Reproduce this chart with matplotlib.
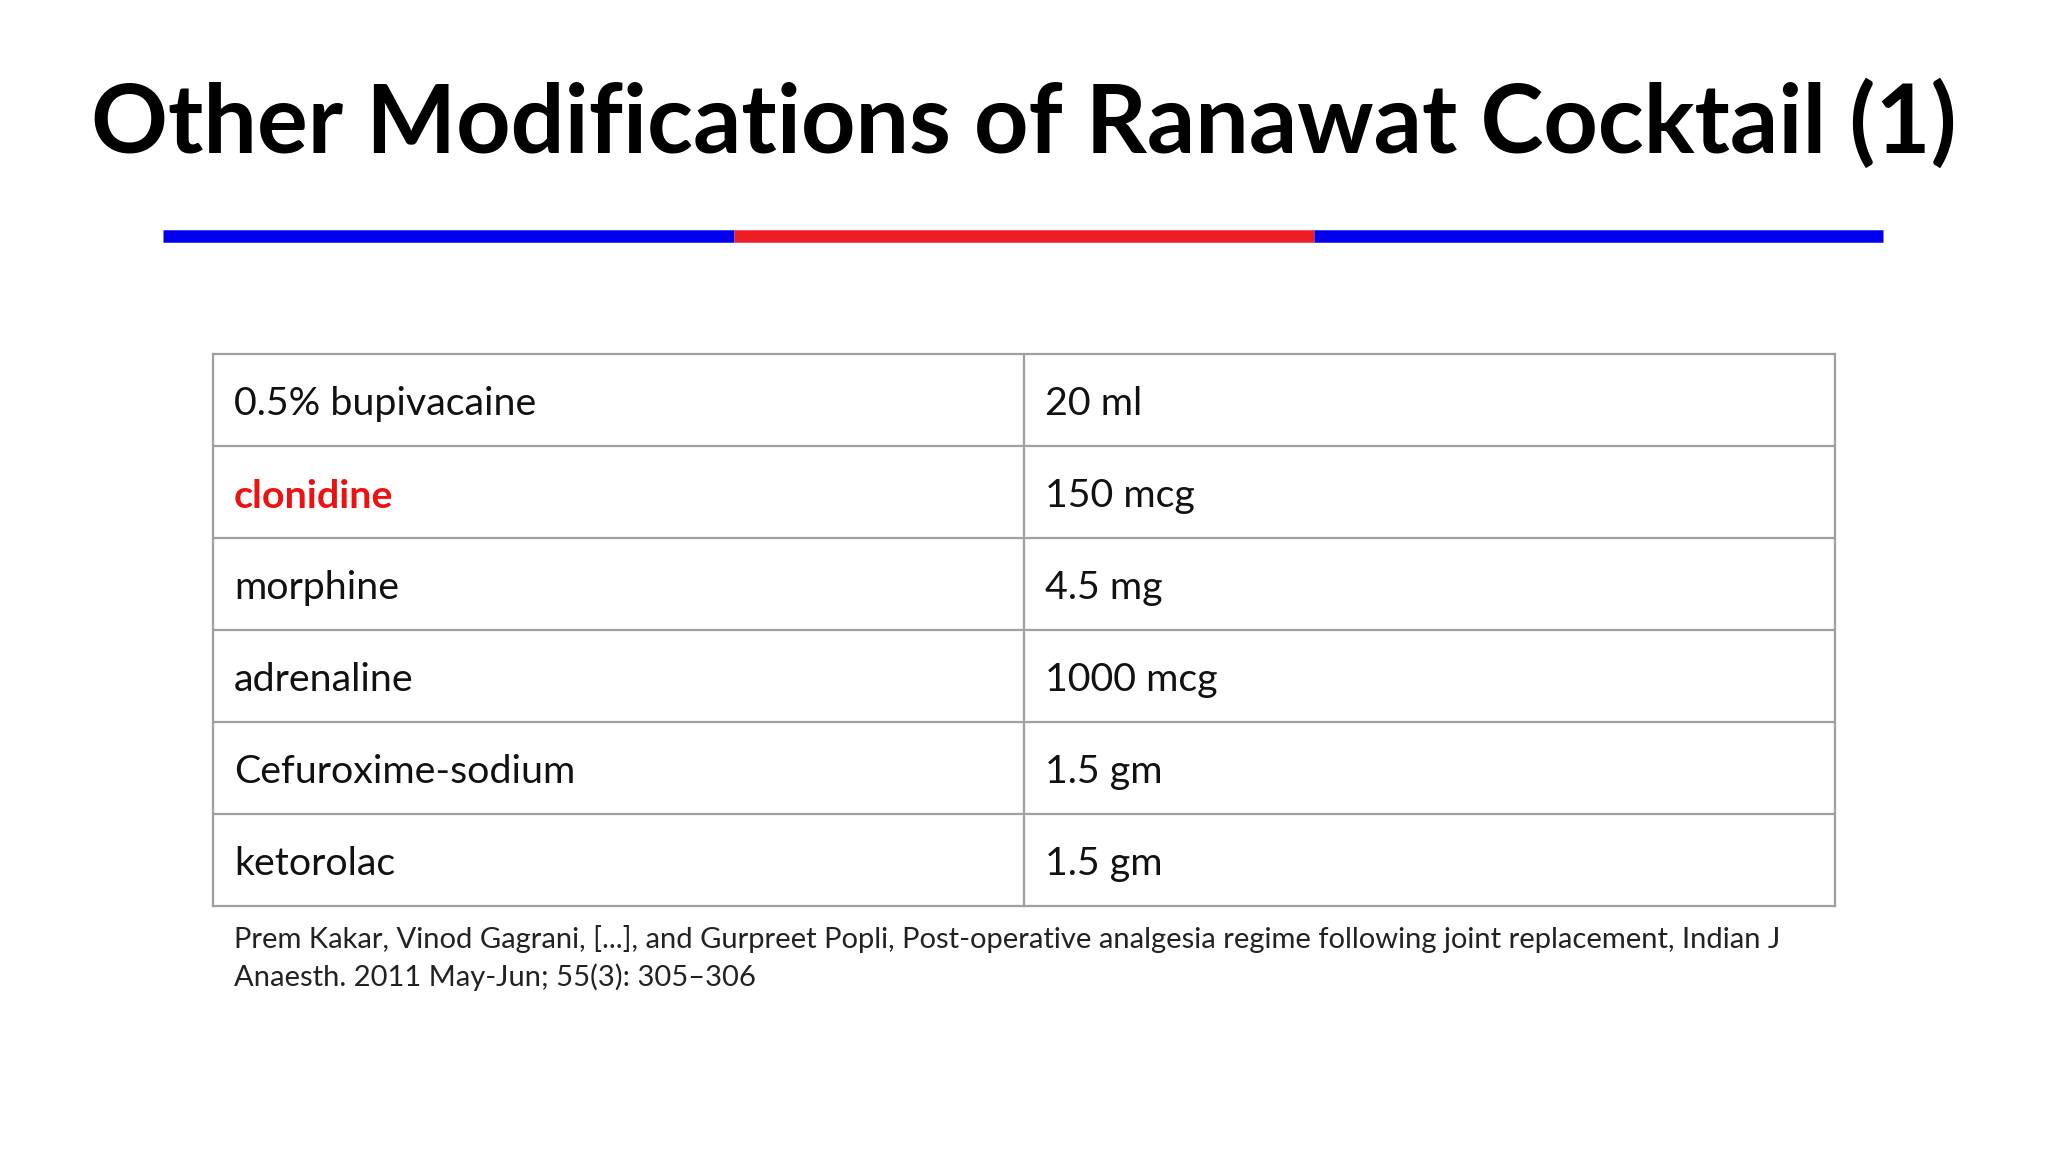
import matplotlib
matplotlib.use("Agg")
import matplotlib.pyplot as plt
from matplotlib.lines import Line2D

W, H = 1568, 882
title = "Other Modifications of Ranawat Cocktail (1)"
drugs = ["0.5% bupivacaine", "clonidine", "morphine", "adrenaline", "Cefuroxime-sodium", "ketorolac"]
doses = ["20 ml", "150 mcg", "4.5 mg", "1000 mcg", "1.5 gm", "1.5 gm"]
highlight = ["clonidine"]
citation = ["Prem Kakar, Vinod Gagrani, [...], and Gurpreet Popli, Post-operative analgesia regime following joint replacement, Indian J",
            "Anaesth. 2011 May-Jun; 55(3): 305\u2013306"]

plt.rcParams['font.family'] = ['Lato', 'DejaVu Sans']
fig = plt.figure(figsize=(20.48, 11.52), dpi=100)
ax = fig.add_axes([0, 0, 1, 1])
ax.set_xlim(0, W); ax.set_ylim(H, 0); ax.axis('off')

ax.text(784, 95, title, ha='center', va='center', fontsize=68.5, fontweight='bold', color='black')
for x0, x1, c in [(125, 562, '#0000EE'), (562, 1006, '#EE1C25'), (1006, 1442, '#0000EE')]:
    ax.add_line(Line2D([x0, x1], [181, 181], color=c, lw=9, solid_capstyle='butt'))

x0, xm, x1 = 163, 784, 1405
y0, y1 = 271, 694
n = len(drugs)
rh = (y1 - y0) / n
gc = '#A0A0A0'
for i in range(n + 1):
    ax.add_line(Line2D([x0, x1], [y0 + i * rh] * 2, color=gc, lw=1.6))
for x in (x0, xm, x1):
    ax.add_line(Line2D([x, x], [y0, y1], color=gc, lw=1.6))
for i, (d, v) in enumerate(zip(drugs, doses)):
    yc = y0 + (i + 0.5) * rh + 3
    hl = d in highlight
    ax.text(179, yc, d, va='center', ha='left', fontsize=28.4,
            color='#EE1111' if hl else '#111111', fontweight='bold' if hl else 'normal')
    ax.text(800, yc, v, va='center', ha='left', fontsize=28.4, color='#111111')

for j, line in enumerate(citation):
    ax.text(179, 719 + j * 29, line, va='center', ha='left', fontsize=21, color='#222222')

fig.savefig('out.png', dpi=100, facecolor='white')
